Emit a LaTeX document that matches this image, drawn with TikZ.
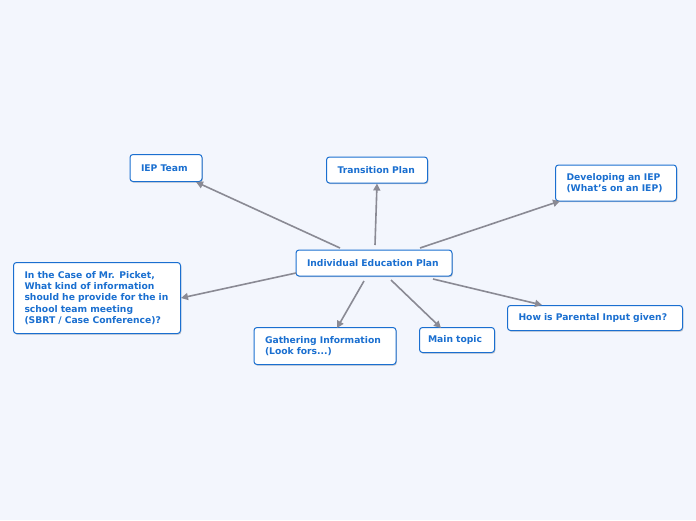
\documentclass[tikz,border=0pt]{standalone}
\usepackage{fontspec}
\setmainfont{DejaVu Sans}
\usetikzlibrary{shadows,arrows.meta}
\definecolor{bg}{HTML}{F3F6FD}
\definecolor{tb}{HTML}{1A6FD0}
\definecolor{ln}{HTML}{8A8A94}
\begin{document}
\begin{tikzpicture}[x=1pt,y=-1pt,
 box/.style={draw=tb,line width=1pt,rounded corners=3pt,fill=white,text=tb,font=\fontsize{9.2}{11.3}\selectfont\bfseries,inner sep=0pt,drop shadow={shadow xshift=0.8pt,shadow yshift=-1.2pt,opacity=0.4},align=left},
 con/.style={draw=ln,line width=1.6pt,-{Triangle[length=7pt,width=7pt]}}]
\fill[bg] (0,0) rectangle (696,520);
\useasboundingbox (0,0) rectangle (696,520);
\node[box,minimum width=156pt,minimum height=26pt,text width=134pt] (c) at (374,263) {Individual Education Plan};
\node[box,minimum width=72pt,minimum height=27pt,text width=50pt] (iep) at (166,168) {IEP Team};
\node[box,minimum width=101pt,minimum height=26pt,text width=79pt] (tr) at (377,170) {Transition Plan};
\node[box,minimum width=121pt,minimum height=36pt,text width=99pt] (dev) at (616,183) {Developing an IEP\\(What's on an IEP)};
\node[box,minimum width=167pt,minimum height=71pt,text width=145pt] (pk) at (97,298) {In the Case of Mr. Picket,\\What kind of information\\should he provide for the in\\school team meeting\\(SBRT / Case Conference)?};
\node[box,minimum width=142pt,minimum height=37pt,text width=120pt] (ga) at (325,346) {Gathering Information\\(Look fors...)};
\node[box,minimum width=75pt,minimum height=25pt,text width=58pt] (mt) at (457,340) {Main topic};
\node[box,minimum width=175pt,minimum height=25pt,text width=153pt] (pa) at (595,318) {How is Parental Input given?};
\coordinate (s1) at (340,248);
\coordinate (s2) at (375,245);
\coordinate (s3) at (420,248);
\coordinate (s4) at (296,273);
\coordinate (s5) at (364,281);
\coordinate (s6) at (391,280);
\coordinate (s7) at (433,279);
\coordinate (e1) at (196,182);
\coordinate (e3) at (560,201);
\coordinate (e5) at (337,328);
\coordinate (e6) at (441,328);
\coordinate (e7) at (542,305);
\draw[con] (s1) -- (e1);
\draw[con] (s2) -- (tr.south);
\draw[con] (s3) -- (e3);
\draw[con] (s4) -- (pk.east);
\draw[con] (s5) -- (e5);
\draw[con] (s6) -- (e6);
\draw[con] (s7) -- (e7);
\end{tikzpicture}
\end{document}
